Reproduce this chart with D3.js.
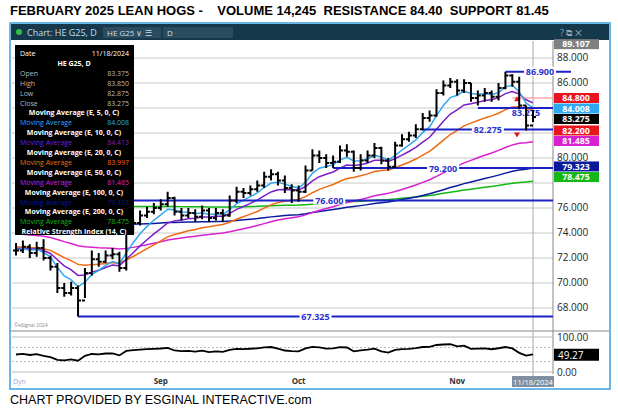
<!DOCTYPE html>
<html><head><meta charset="utf-8">
<script src="https://cdn.jsdelivr.net/npm/d3@7"></script>
<style>body{margin:0;background:#fff;font-family:"Open Sans",Arial,sans-serif}</style>
</head><body><svg id="c" width="618" height="416"></svg>
<script>
const closes=[72.6,72.9,72.4,72.8,72.0,71.3,69.6,69.2,69.6,68.6,70.8,71.9,71.7,72.2,72.3,71.2,74.2,74.8,75.4,75.7,76.0,76.3,76.8,75.7,75.4,75.6,75.3,75.8,75.2,75.6,75.4,76.6,77.3,77.2,77.5,77.8,78.5,78.7,78.2,77.6,77.4,77.3,79.0,80.2,80.0,79.6,79.7,80.6,80.5,79.2,79.8,80.2,80.8,79.8,79.3,81.0,81.5,81.8,82.3,83.2,83.4,85.2,85.8,86.1,85.4,86.0,84.8,85.0,85.2,84.9,85.6,86.6,86.1,84.2,82.6,83.275];
const highs=[73.2,73.4,73.1,73.3,73.5,72.2,71.6,70.0,70.1,69.8,71.2,72.6,72.4,72.6,72.8,72.5,74.5,75.1,75.8,76.1,76.4,76.7,77.3,76.9,76.0,76.0,75.9,76.2,76.0,76.0,75.9,77.0,77.7,77.6,77.8,78.2,78.9,79.1,78.9,78.6,77.9,77.8,79.4,80.7,80.6,80.3,80.2,81.0,81.1,80.6,80.3,80.6,81.2,80.9,80.0,81.3,81.9,82.1,82.7,83.6,83.8,85.5,86.2,86.4,86.3,86.3,86.0,85.4,85.6,85.4,86.0,86.9,86.7,86.5,84.2,83.85];
const lows=[72.2,72.4,72.0,72.1,71.8,71.0,69.2,68.9,69.0,67.325,68.8,70.6,71.3,71.6,71.9,70.9,71.0,74.0,74.6,75.2,75.5,75.8,76.1,75.4,75.0,75.2,74.9,75.1,74.9,75.0,74.9,75.3,76.4,76.8,77.0,77.3,77.6,78.2,77.8,77.2,76.4,76.5,77.2,79.0,79.6,79.2,79.2,79.6,80.1,78.9,79.0,79.6,80.0,79.5,79.0,79.2,80.9,81.3,81.6,82.2,82.9,83.3,85.0,85.6,85.0,85.2,84.5,84.2,84.5,84.5,84.6,85.5,85.7,83.9,82.2,82.875];
const maPeriods=[5,10,20,50,100,200];
const maStart=[72.7,72.8,72.9,74.0,76.0,77.0];
const maColors=["#2ea8f0","#7b1fc8","#f06a10","#d820d0","#0a1a9a","#14b814"];
const levels=[{v:86.9,x0:71,lab:"86.900"},{v:84.0,x0:67,lab:""},{v:82.275,x0:59,lab:"82.275"},{v:79.2,x0:46,lab:"79.200"},{v:76.6,x0:13,lab:"76.600"},{v:67.325,x0:9,lab:"67.325"}];
const priceTicks=[88,86,84,82,80,78,76,74,72,70,68];
const rightTags=[{v:89.107,t:"89.107",bg:"#808080",fg:"#fff"},{v:84.8,t:"84.800",bg:"#e8141e",fg:"#fff"},{v:84.008,t:"84.008",bg:"#2ea8f0",fg:"#fff"},{v:83.275,t:"83.275",bg:"#000",fg:"#fff"},{v:82.2,t:"82.200",bg:"#e8141e",fg:"#fff"},{v:81.485,t:"81.485",bg:"#d820d0",fg:"#fff"},{v:79.323,t:"79.323",bg:"#0a1a9a",fg:"#fff"},{v:78.475,t:"78.475",bg:"#14b814",fg:"#fff"}];
const monthLabels=[{i:21,t:"Sep"},{i:41,t:"Oct"},{i:64,t:"Nov"}];
const infoRows=[["Date","11/18/2024","#fff"],["HE G25, D","","c"],["Open","83.375","#bbb"],["High","83.850","#bbb"],["Low","82.875","#bbb"],["Close","83.275","#bbb"],["Moving Average (E, 5, 0, C)","","c"],["Moving Average","84.008","#2ea8f0"],["Moving Average (E, 10, 0, C)","","c"],["Moving Average","84.413","#7b1fc8"],["Moving Average (E, 20, 0, C)","","c"],["Moving Average","83.997","#f06a10"],["Moving Average (E, 50, 0, C)","","c"],["Moving Average","81.485","#d820d0"],["Moving Average (E, 100, 0, C)","","c"],["Moving Average","79.323","#0a1a9a"],["Moving Average (E, 200, 0, C)","","c"],["Moving Average","78.475","#14b814"],["Relative Strength Index (14, C)","","c"]];

const svg=d3.select("#c");
const L=12,R=553,PB=331;
const x=d3.scaleLinear().domain([0,closes.length-1]).range([16,533]);
const y=d3.scaleLinear().domain([67,89.4]).range([320.5,40.5]);
const yr=d3.scaleLinear().domain([0,100]).range([372,337]);

svg.append("text").attr("x",10).attr("y",15).attr("font-size",13).attr("font-weight","bold").attr("font-family","Arial,Liberation Sans").attr("xml:space","preserve").text("FEBRUARY 2025 LEAN HOGS -    VOLUME 14,245  RESISTANCE 84.40  SUPPORT 81.45");
svg.append("rect").attr("x",10).attr("y",23).attr("width",600).attr("height",366).attr("fill","#fff").attr("stroke","#3aa0e0").attr("stroke-width",1.5);
svg.append("rect").attr("x",11).attr("y",24).attr("width",598).attr("height",16).attr("fill","#15384a");
svg.append("circle").attr("cx",19).attr("cy",32).attr("r",3).attr("fill","#2ec04a");
svg.append("text").attr("x",27).attr("y",36).attr("fill","#cde").attr("font-size",9).text("Chart: HE G25, D");
svg.append("rect").attr("x",103).attr("y",27).attr("width",58).attr("height",11).attr("fill","#2a4c5e");
svg.append("text").attr("x",107).attr("y",36).attr("fill","#cde").attr("font-size",8).text("HE G25   ∨ ☰");
svg.append("rect").attr("x",163).attr("y",27).attr("width",70).attr("height",11).attr("fill","#2a4c5e");
svg.append("text").attr("x",167).attr("y",36).attr("fill","#cde").attr("font-size",8).text("D");
svg.append("text").attr("x",560).attr("y",36).attr("fill","#9ab").attr("font-size",9).text("?   ⧉   ✕");

const tagY=[];rightTags.forEach((t,i)=>{let yy=y(t.v);if(i&&yy<tagY[i-1]+10.5)yy=tagY[i-1]+10.5;tagY.push(yy);});

priceTicks.forEach(v=>{svg.append("line").attr("x1",L).attr("x2",R).attr("y1",y(v)).attr("y2",y(v)).attr("stroke","#c8c8c8");
 if(!tagY.some(ty=>Math.abs(ty-y(v))<8))svg.append("text").attr("x",557).attr("y",y(v)+3).attr("font-size",10).attr("fill","#222").text(v.toFixed(3));});
svg.append("line").attr("x1",11).attr("x2",609).attr("y1",PB).attr("y2",PB).attr("stroke","#888");
svg.append("line").attr("x1",R).attr("x2",R).attr("y1",41).attr("y2",374).attr("stroke","#888");
svg.append("line").attr("x1",533).attr("x2",533).attr("y1",41).attr("y2",376).attr("stroke","#aaa");

const mas=maPeriods.map((p,k)=>{const a=2/(p+1);let e=maStart[k];return closes.map(c=>(e=e+a*(c-e)));});
const line=d3.line().x((d,i)=>x(i)).y(d=>y(d));
[5,4,3,2,1,0].forEach(k=>svg.append("path").attr("d",line(mas[k])).attr("fill","none").attr("stroke",maColors[k]).attr("stroke-width",1.5));

levels.forEach(l=>{svg.append("line").attr("x1",x(l.x0)).attr("x2",R+(l.v==86.9?18:0)).attr("y1",y(l.v)).attr("y2",y(l.v)).attr("stroke","#1a22c8").attr("stroke-width",2);
 if(l.lab){const xm=l.v==86.9?540:(x(l.x0)+R)/2;svg.append("rect").attr("x",xm-16).attr("y",y(l.v)-5).attr("width",32).attr("height",9).attr("fill","#fff");
 svg.append("text").attr("x",xm).attr("y",y(l.v)+3.5).attr("text-anchor","middle").attr("font-size",9).attr("font-weight","bold").attr("fill","#2a32d0").text(l.lab);}});
svg.append("line").attr("x1",x(72)).attr("x2",R).attr("y1",y(84.8)).attr("y2",y(84.8)).attr("stroke","#f08080");
svg.append("text").attr("x",526).attr("y",y(83.4)).attr("text-anchor","middle").attr("font-size",9).attr("font-weight","bold").attr("fill","#2a32d0").text("83.275");
svg.append("path").attr("d",`M514,${y(84.55)}l3,-5l3,5z`).attr("fill","#e8141e");
svg.append("path").attr("d",`M514,${y(82.05)}l3,5l3,-5z`).attr("fill","#e8141e");

const g=svg.append("g").attr("stroke","#000").attr("stroke-width",2);
closes.forEach((c,i)=>{const o=i?closes[i-1]:c;const xi=x(i);
 g.append("line").attr("x1",xi).attr("x2",xi).attr("y1",y(highs[i])).attr("y2",y(lows[i]));
 g.append("line").attr("x1",xi-3).attr("x2",xi).attr("y1",y(o)).attr("y2",y(o));
 g.append("line").attr("x1",xi).attr("x2",xi+3).attr("y1",y(c)).attr("y2",y(c));});

rightTags.forEach((t,i)=>{svg.append("rect").attr("x",554).attr("y",tagY[i]-5).attr("width",45).attr("height",10).attr("fill",t.bg);
 svg.append("text").attr("x",576).attr("y",tagY[i]+3.2).attr("text-anchor","middle").attr("font-size",8.8).attr("font-weight","bold").attr("fill",t.fg).text(t.t);});

svg.append("rect").attr("x",15).attr("y",45).attr("width",119).attr("height",190).attr("fill","#000");
infoRows.forEach((r,i)=>{const yy=56+i*9.9;
 if(r[2]=="c")svg.append("text").attr("x",74).attr("y",yy).attr("text-anchor","middle").attr("font-size",7).attr("font-weight","bold").attr("fill","#fff").text(r[0]);
 else{svg.append("text").attr("x",20).attr("y",yy).attr("font-size",7).attr("fill",r[2]).text(r[0]);
 svg.append("text").attr("x",129).attr("y",yy).attr("text-anchor","end").attr("font-size",7).attr("fill",r[2]).text(r[1]);}});
svg.append("text").attr("x",14).attr("y",327).attr("font-size",5).attr("fill","#888").text("©eSignal 2024");

let ag=0.3,al=0.3;const rsi=closes.map((c,i)=>{if(i){const d=c-closes[i-1];ag=(ag*13+Math.max(d,0))/14;al=(al*13+Math.max(-d,0))/14;}return 100-100/(1+ag/al);});
[70,30].forEach(v=>svg.append("line").attr("x1",L).attr("x2",R).attr("y1",yr(v)).attr("y2",yr(v)).attr("stroke","#bbb").attr("stroke-dasharray","2,2"));
[100,0].forEach(v=>{svg.append("line").attr("x1",L).attr("x2",R).attr("y1",yr(v)).attr("y2",yr(v)).attr("stroke","#bbb");
 svg.append("text").attr("x",557).attr("y",yr(v)+4).attr("font-size",10).attr("fill","#222").text(v.toFixed(2));});
svg.append("path").attr("d",d3.line().x((d,i)=>x(i)).y(d=>yr(d))(rsi)).attr("fill","none").attr("stroke","#000").attr("stroke-width",1.8);
svg.append("rect").attr("x",554).attr("y",yr(49.27)-6).attr("width",45).attr("height",12).attr("fill","#000");
svg.append("text").attr("x",558).attr("y",yr(49.27)+4).attr("font-size",10).attr("fill","#fff").text("49.27");

monthLabels.forEach(m=>svg.append("text").attr("x",x(m.i)).attr("y",384).attr("text-anchor","middle").attr("font-size",8).attr("font-weight","bold").attr("fill","#333").text(m.t));
svg.append("text").attr("x",13).attr("y",384).attr("font-size",7).attr("fill","#9ac").text("Dyn");
svg.append("rect").attr("x",512).attr("y",376).attr("width",42).attr("height",11).attr("fill","#8090a0");
svg.append("text").attr("x",533).attr("y",384.5).attr("text-anchor","middle").attr("font-size",7.5).attr("fill","#fff").text("11/18/2024");
svg.append("text").attr("x",10).attr("y",404).attr("font-size",12.5).attr("font-family","Liberation Sans,Arial").text("CHART PROVIDED BY ESGINAL INTERACTIVE.com");
</script></body></html>
